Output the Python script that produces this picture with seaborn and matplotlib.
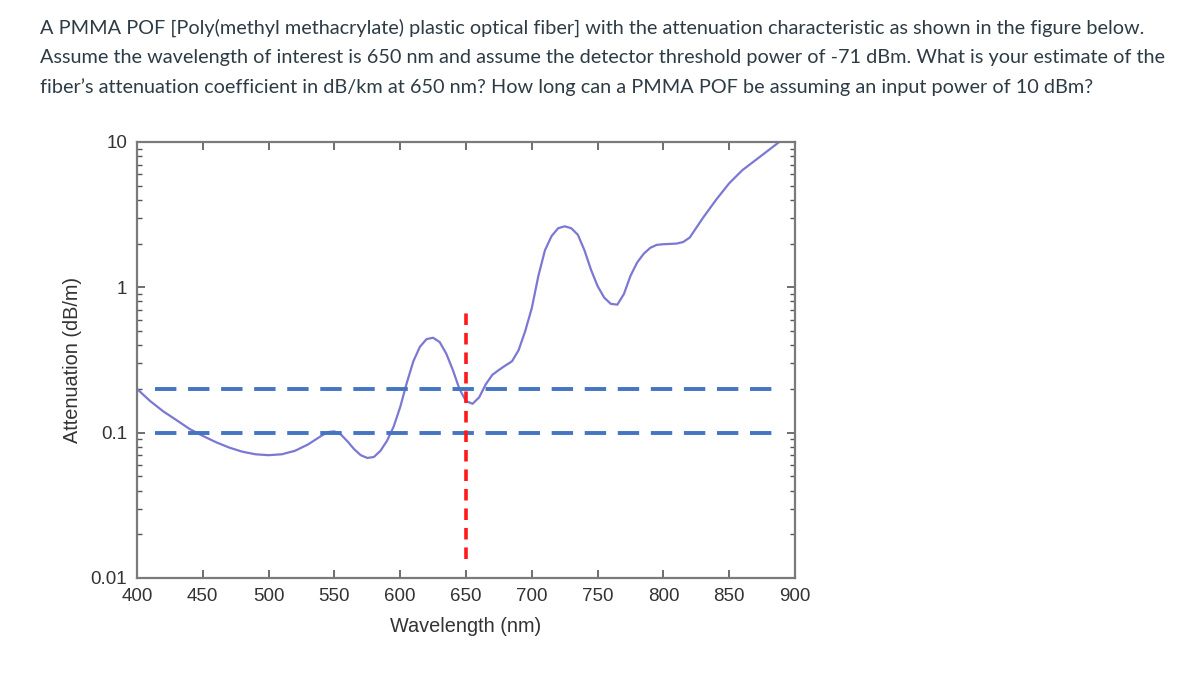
import numpy as np
import pandas as pd
import matplotlib
matplotlib.use("Agg")
import matplotlib.pyplot as plt
import seaborn as sns
from matplotlib.ticker import LogLocator, FixedLocator, NullFormatter

# ---- data ----
wavelength = [400, 410, 420, 430, 440, 450, 460, 470, 480, 490, 500, 510, 520, 530,
              540, 545, 550, 555, 560, 565, 570, 575, 580, 585, 590, 595, 600, 605,
              610, 615, 620, 625, 630, 635, 640, 645, 650, 655, 660, 665, 670, 675,
              680, 685, 690, 695, 700, 705, 710, 715, 720, 725, 730, 735, 740, 745,
              750, 755, 760, 765, 770, 775, 780, 785, 790, 795, 800, 805, 810, 815,
              820, 830, 840, 850, 860, 870, 880, 888]
attenuation = [0.20, 0.165, 0.14, 0.122, 0.106, 0.095, 0.086, 0.079, 0.074, 0.071, 0.070,
               0.071, 0.075, 0.083, 0.095, 0.101, 0.102, 0.097, 0.087, 0.077, 0.070, 0.067,
               0.068, 0.075, 0.088, 0.11, 0.15, 0.22, 0.31, 0.39, 0.44, 0.45, 0.42, 0.35,
               0.27, 0.20, 0.165, 0.158, 0.175, 0.215, 0.25, 0.27, 0.29, 0.31, 0.37, 0.50,
               0.72, 1.20, 1.80, 2.25, 2.55, 2.63, 2.55, 2.30, 1.80, 1.32, 1.02, 0.85, 0.77,
               0.76, 0.90, 1.20, 1.48, 1.70, 1.87, 1.96, 1.98, 1.99, 2.0, 2.05, 2.2, 3.0,
               4.0, 5.2, 6.4, 7.5, 8.8, 10.0]
h_levels = [0.2, 0.1]
h_span = [414, 889]
v_wavelength = 650
v_span = [0.0136, 0.74]
x_ticks = [400, 450, 500, 550, 600, 650, 700, 750, 800, 850, 900]
y_ticks = [0.01, 0.1, 1, 10]
y_ticklabels = ["0.01", "0.1", "1", "10"]

question = ("A PMMA POF [Poly(methyl methacrylate) plastic optical fiber] with the attenuation characteristic as shown in the figure below.\n"
            "Assume the wavelength of interest is 650 nm and assume the detector threshold power of -71 dBm. What is your estimate of the\n"
            "fiber\u2019s attenuation coefficient in dB/km at 650 nm? How long can a PMMA POF be assuming an input power of 10 dBm?")

df = pd.DataFrame({"wavelength": wavelength, "attenuation": attenuation})

sns.set_theme(style="white")
plt.rcParams['font.family'] = ['Liberation Sans', 'DejaVu Sans']

fig = plt.figure(figsize=(11.83, 6.77), dpi=100)
ax = fig.add_axes([137/1183, 1 - 578/677, 658/1183, 436/677])

sns.lineplot(data=df, x="wavelength", y="attenuation", ax=ax, color="#7b78d4", linewidth=1.6)

for lvl in h_levels:
    ax.plot(h_span, [lvl, lvl], color="#4474c2", linewidth=2.8, dashes=(5.5, 3))
ax.plot([v_wavelength, v_wavelength], v_span, color="#ff1a1a", linewidth=2.6, dashes=(3.2, 2.2))

ax.set_yscale("log")
ax.set_xlim(400, 900)
ax.set_ylim(0.01, 10)
ax.xaxis.set_major_locator(FixedLocator(x_ticks))
ax.set_xticklabels([str(t) for t in x_ticks])
ax.set_yticks(y_ticks)
ax.set_yticklabels(y_ticklabels)
ax.yaxis.set_minor_locator(LogLocator(base=10, subs=np.arange(2, 10), numticks=20))
ax.yaxis.set_minor_formatter(NullFormatter())

ax.tick_params(axis="both", which="major", direction="in", length=6, width=1.2, color="#555555",
               labelsize=13.5, labelcolor="#333333", top=True, right=True, bottom=True, left=True)
ax.tick_params(axis="y", which="minor", direction="in", length=3.5, width=1.0, color="#555555",
               left=True, right=True)
ax.tick_params(axis="x", which="major", pad=7)
ax.tick_params(axis="y", which="major", pad=7)

for s in ax.spines.values():
    s.set_color("#7a7a7a")
    s.set_linewidth(1.6)

ax.set_xlabel("Wavelength (nm)", fontsize=14.3, color="#333333")
ax.set_ylabel("Attenuation (dB/m)", fontsize=14.3, color="#333333")
ax.xaxis.set_label_coords(0.5, -0.09)
ax.yaxis.set_label_coords(-0.084, 0.5)

fig.text(40/1183, 1 - 19/677, question, fontsize=14.35, family=['Lato', 'DejaVu Sans'],
         color="#2d3b45", va="top", ha="left", linespacing=1.82)

fig.savefig("out.png", dpi=100, facecolor="white")
